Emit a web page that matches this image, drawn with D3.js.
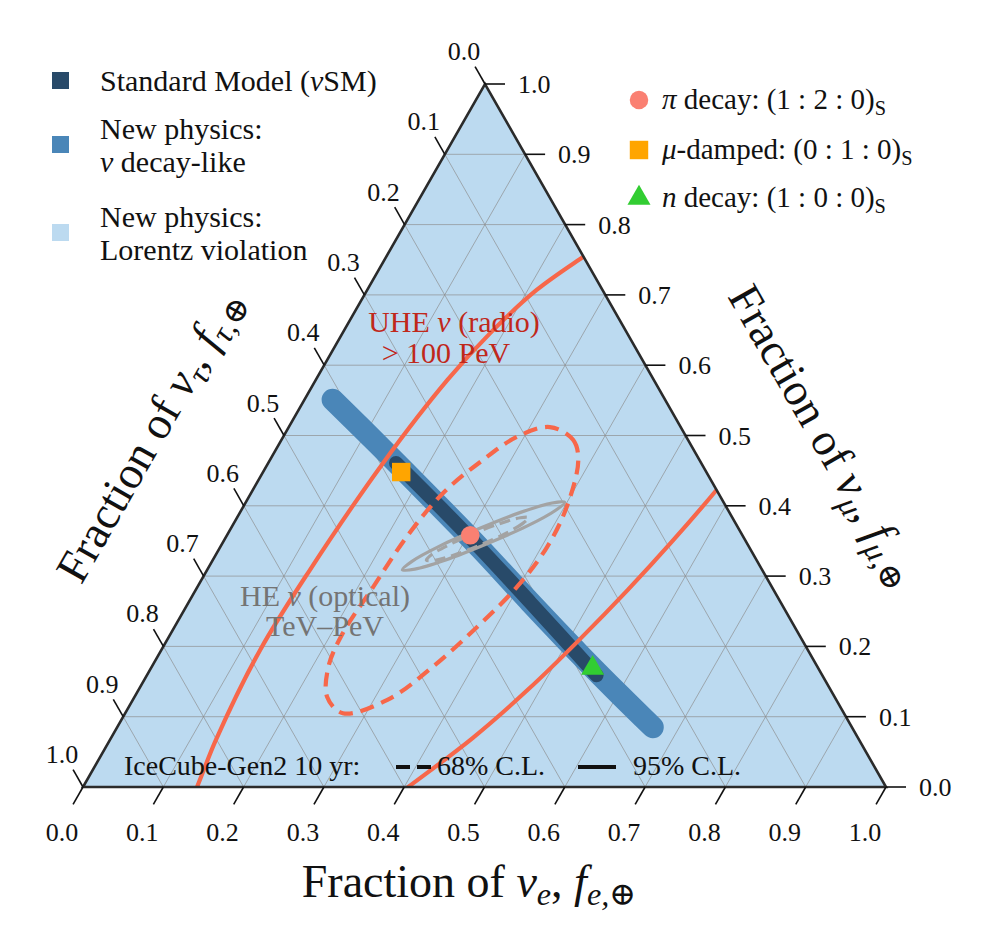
<!DOCTYPE html>
<html><head><meta charset="utf-8">
<script src="https://cdn.jsdelivr.net/npm/d3@7"></script>
<style>body{margin:0;background:#fff}svg{display:block}</style>
</head><body>
<svg id="chart" width="1000" height="950"></svg>
<script>
// ---------- data (ternary fractions: [f_e, f_mu]; f_tau = 1 - f_e - f_mu) ----------
const tickValues = [0, 0.1, 0.2, 0.3, 0.4, 0.5, 0.6, 0.7, 0.8, 0.9, 1.0];
const tickLabels = ["0.0","0.1","0.2","0.3","0.4","0.5","0.6","0.7","0.8","0.9","1.0"];

const decayBand = [[0.035,0.551],[0.128,0.484],[0.232,0.408],[0.324,0.340],[0.425,0.263],[0.525,0.188],[0.603,0.131],[0.667,0.085]];
const smBand = [[0.159,0.461],[0.232,0.408],[0.324,0.340],[0.425,0.263],[0.560,0.159]];

const uhe95Left = [[0.145,-0.03],[0.142,0.0],[0.132,0.067],[0.123,0.195],[0.128,0.309],[0.143,0.461],[0.164,0.579],[0.184,0.646],[0.211,0.707],[0.246,0.755],[0.262,0.775]];
const uhe95Right = [[0.385,-0.03],[0.405,0.0],[0.4505,0.07],[0.4855,0.14],[0.5135,0.21],[0.538,0.28],[0.559,0.35],[0.578,0.425],[0.585,0.46]];
const uhe68 = [[0.325,0.512],[0.363,0.494],[0.384,0.465],[0.403,0.398],[0.407,0.341],[0.398,0.285],[0.377,0.228],[0.350,0.171],[0.317,0.124],[0.271,0.105],[0.240,0.128],[0.220,0.171],[0.214,0.219],[0.219,0.285],[0.225,0.356],[0.239,0.418],[0.265,0.465],[0.291,0.498]];
const he95 = [[0.397,0.405],[0.391,0.393],[0.367,0.371],[0.330,0.346],[0.290,0.323],[0.258,0.310],[0.243,0.309],[0.249,0.321],[0.273,0.343],[0.310,0.368],[0.350,0.391],[0.382,0.404]];
const he68 = [[0.363,0.383],[0.360,0.375],[0.345,0.360],[0.322,0.344],[0.297,0.330],[0.277,0.3225],[0.266,0.3228],[0.269,0.331],[0.284,0.345],[0.307,0.361],[0.332,0.375],[0.353,0.383]];

const sourceNames = ["pi","mu","n"];
const sourceFe  = [0.303, 0.172, 0.550];
const sourceFmu = [0.358, 0.448, 0.169];

const legendLeft = ["Standard Model (νSM)", "New physics:|ν decay-like", "New physics:|Lorentz violation"];
// ---------- geometry ----------
const svg = d3.select("#chart");
const L = {x:83, y:787}, R = {x:886, y:787}, T = {x:485, y:84};
const xE = d3.scaleLinear().domain([0,1]).range([0, R.x - L.x]);
const xM = d3.scaleLinear().domain([0,1]).range([0, T.x - L.x]);
const yM = d3.scaleLinear().domain([0,1]).range([L.y, T.y]);
const P = (fe, fm) => [L.x + xE(fe) + xM(fm), yM(fm)];
const FONT = "'Liberation Serif', 'DejaVu Serif', serif";

const colDark = "#284a69", colMid = "#4a86b8", colLight = "#bcdaf0";
const red = "#f7674a", gray = "#a3a3a3";

const defs = svg.append("defs");
defs.append("clipPath").attr("id","tri").append("path")
  .attr("d", `M${L.x},${L.y}L${R.x},${R.y}L${T.x},${T.y}Z`);

// background triangle
svg.append("path").attr("d", `M${L.x},${L.y}L${R.x},${R.y}L${T.x},${T.y}Z`).attr("fill", colLight);

// grid
const grid = svg.append("g").attr("stroke","#8c8c8c").attr("stroke-width",0.9).attr("stroke-opacity",0.75);
tickValues.slice(1,-1).forEach(v => {
  const segs = [[P(v,0), P(v,1-v)], [P(0,v), P(1-v,v)], [P(1-v,0), P(0,1-v)]];
  segs.forEach(s => grid.append("line").attr("x1",s[0][0]).attr("y1",s[0][1]).attr("x2",s[1][0]).attr("y2",s[1][1]));
});

const plot = svg.append("g").attr("clip-path","url(#tri)");
const closed = d3.line().x(d => P(d[0],d[1])[0]).y(d => P(d[0],d[1])[1]).curve(d3.curveCatmullRomClosed);
const open = d3.line().x(d => P(d[0],d[1])[0]).y(d => P(d[0],d[1])[1]).curve(d3.curveCatmullRom);

// bands
plot.append("path").attr("d", open(decayBand)).attr("fill","none")
  .attr("stroke", colMid).attr("stroke-width", 22).attr("stroke-linecap","round").attr("stroke-linejoin","round");
plot.append("path").attr("d", open(smBand)).attr("fill","none")
  .attr("stroke", colDark).attr("stroke-width", 14).attr("stroke-linecap","round");

// contours
plot.append("path").attr("d", closed(he95)).attr("fill","none").attr("stroke",gray).attr("stroke-width",3.2);
plot.append("path").attr("d", closed(he68)).attr("fill","none").attr("stroke",gray).attr("stroke-width",3.2).attr("stroke-dasharray","11,6");
plot.append("path").attr("d", open(uhe95Left)).attr("fill","none").attr("stroke",red).attr("stroke-width",4.2);
plot.append("path").attr("d", open(uhe95Right)).attr("fill","none").attr("stroke",red).attr("stroke-width",4.2);
plot.append("path").attr("d", closed(uhe68)).attr("fill","none").attr("stroke",red).attr("stroke-width",4.2).attr("stroke-dasharray","14,8");

// source markers
const sym = {pi: d3.symbol(d3.symbolCircle, 270), mu: d3.symbol(d3.symbolSquare, 340), n: d3.symbol(d3.symbolTriangle, 230)};
const symCol = {pi:"#fa8072", mu:"#ffa500", n:"#32cd32"};
sourceNames.forEach((k,i) => {
  const p = P(sourceFe[i], sourceFmu[i]);
  svg.append("path").attr("d", sym[k]()).attr("transform",`translate(${p[0]},${p[1]})`).attr("fill", symCol[k]);
});

// triangle border
svg.append("path").attr("d", `M${L.x},${L.y}L${R.x},${R.y}L${T.x},${T.y}Z`).attr("fill","none")
  .attr("stroke","#2b2b2b").attr("stroke-width",2.6).attr("stroke-linejoin","miter");

// ticks
const tk = svg.append("g").attr("stroke","#111").attr("stroke-width",1.6);
const tl = svg.append("g").attr("font-family",FONT).attr("font-size",26).attr("fill","#111");
const lenT = 20;
const dL = [-(T.x-L.x), -(T.y-L.y)]; const nL = Math.hypot(dL[0],dL[1]);
const dR = [-(R.x-T.x), -(R.y-T.y)]; const nR = Math.hypot(dR[0],dR[1]);
tickValues.forEach((v,i) => {
  let p = P(v,0);
  tk.append("line").attr("x1",p[0]).attr("y1",p[1]).attr("x2",p[0]+dL[0]/nL*lenT).attr("y2",p[1]+dL[1]/nL*lenT);
  tl.append("text").attr("x",p[0]-21).attr("y",p[1]+54).attr("text-anchor","middle").text(tickLabels[i]);
  p = P(1-v, v);
  tk.append("line").attr("x1",p[0]).attr("y1",p[1]).attr("x2",p[0]+lenT).attr("y2",p[1]);
  tl.append("text").attr("x",p[0]+33).attr("y",p[1]+9).attr("text-anchor","start").text(tickLabels[i]);
  p = P(0, 1-v);
  tk.append("line").attr("x1",p[0]).attr("y1",p[1]).attr("x2",p[0]+dR[0]/nR*lenT).attr("y2",p[1]+dR[1]/nR*lenT);
  tl.append("text").attr("x",p[0]-21).attr("y",p[1]-24).attr("text-anchor","middle").text(tickLabels[i]);
});

// axis titles
function title(g, sub) {
  const t = g.append("text").attr("font-family",FONT).attr("fill","#111").attr("text-anchor","middle");
  t.append("tspan").text("Fraction of ");
  t.append("tspan").attr("font-style","italic").text("ν");
  t.append("tspan").attr("font-style","italic").attr("font-size","70%").attr("dy","0.25em").text(sub);
  t.append("tspan").attr("dy","-0.175em").text(", ");
  t.append("tspan").attr("font-style","italic").text("f");
  const s = t.append("tspan").attr("font-size","70%").attr("dy","0.25em");
  s.append("tspan").attr("font-style","italic").text(sub + ",");
  s.append("tspan").attr("font-weight","normal").text("⊕");
  return t;
}
const ang = Math.atan2(L.y - T.y, T.x - L.x) * 180 / Math.PI;
title(svg.append("g").attr("transform","translate(469,897)"), "e").attr("font-size",46);
title(svg.append("g").attr("transform",`translate(163,443) rotate(${-ang})`), "τ").attr("font-size",46);
title(svg.append("g").attr("transform",`translate(811,443) rotate(${ang})`), "μ").attr("font-size",46);

// left legend
const legColors = [colDark, colMid, colLight];
const legY = [81, 145, 233];
legendLeft.forEach((s,i) => {
  svg.append("rect").attr("x",52).attr("y",legY[i]-9).attr("width",17).attr("height",17).attr("fill",legColors[i]);
  const lines = s.split("|");
  const y0 = lines.length === 1 ? legY[i] + 10 : legY[i] - 6;
  lines.forEach((ln,j) => {
    const t = svg.append("text").attr("x",100).attr("y", y0 + j*33).attr("font-family",FONT).attr("font-size",30).attr("fill","#111");
    if (ln.startsWith("ν")) { t.append("tspan").attr("font-style","italic").text("ν"); t.append("tspan").text(ln.slice(1)); }
    else if (ln.includes("(ν")) { t.append("tspan").text("Standard Model ("); t.append("tspan").attr("font-style","italic").text("ν"); t.append("tspan").text("SM)"); }
    else t.text(ln);
  });
});

// right legend
const rl = [["π"," decay: (1 : 2 : 0)"],["μ","-damped: (0 : 1 : 0)"],["n"," decay: (1 : 0 : 0)"]];
const rlY = [100, 150, 198];
sourceNames.forEach((k,i) => {
  svg.append("path").attr("d", sym[k]()).attr("transform",`translate(639,${rlY[i]})`).attr("fill", symCol[k]);
  const t = svg.append("text").attr("x",662).attr("y",rlY[i]+9).attr("font-family",FONT).attr("font-size",29).attr("fill","#111");
  t.append("tspan").attr("font-style","italic").text(rl[i][0]);
  t.append("tspan").text(rl[i][1]);
  t.append("tspan").attr("font-size","70%").attr("dy","0.3em").text("S");
});

// in-plot annotations
const ann = svg.append("g").attr("font-family",FONT).attr("font-size",30).attr("text-anchor","middle");
let t1 = ann.append("text").attr("x",454).attr("y",332).attr("fill","#c0281b");
t1.append("tspan").text("UHE "); t1.append("tspan").attr("font-style","italic").text("ν"); t1.append("tspan").text(" (radio)");
ann.append("text").attr("x",446).attr("y",363).attr("fill","#c0281b").text("> 100 PeV");
let t2 = ann.append("text").attr("x",325).attr("y",606).attr("fill","#747474");
t2.append("tspan").text("HE "); t2.append("tspan").attr("font-style","italic").text("ν"); t2.append("tspan").text(" (optical)");
ann.append("text").attr("x",325).attr("y",636).attr("fill","#747474").text("TeV–PeV");

// bottom legend
const bl = svg.append("g").attr("font-family",FONT).attr("font-size",28).attr("fill","#111");
bl.append("text").attr("x",124).attr("y",775).text("IceCube-Gen2 10 yr:");
bl.append("line").attr("x1",396).attr("x2",432).attr("y1",767).attr("y2",767).attr("stroke","#111").attr("stroke-width",4).attr("stroke-dasharray","14,7");
bl.append("text").attr("x",437).attr("y",775).text("68% C.L.");
bl.append("line").attr("x1",578).attr("x2",616).attr("y1",767).attr("y2",767).attr("stroke","#111").attr("stroke-width",4);
bl.append("text").attr("x",633).attr("y",775).text("95% C.L.");
</script>
</body></html>
